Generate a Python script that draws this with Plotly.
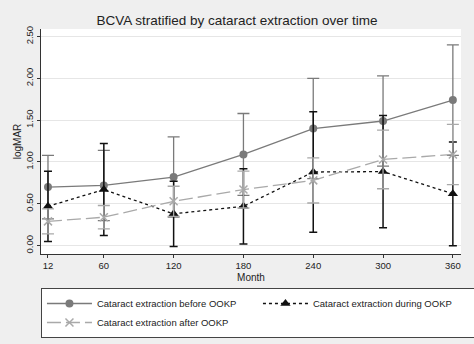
import plotly.graph_objects as go

months = [12, 60, 120, 180, 240, 300, 360]
x_ticks = [12, 60, 120, 180, 240, 300, 360]
y_ticks = [0.0, 0.5, 1.0, 1.5, 2.0, 2.5]
y_tick_labels = ["0.00", "0.50", "1.00", "1.50", "2.00", "2.50"]

before_mean = [0.70, 0.72, 0.82, 1.09, 1.40, 1.49, 1.74]
before_sd = [0.38, 0.42, 0.48, 0.49, 0.60, 0.54, 0.66]

during_mean = [0.47, 0.67, 0.38, 0.47, 0.88, 0.885, 0.62]
during_sd = [0.42, 0.55, 0.39, 0.45, 0.72, 0.67, 0.62]

after_mean = [0.29, 0.34, 0.53, 0.67, 0.78, 1.03, 1.09]
after_sd = [0.15, 0.14, 0.18, 0.22, 0.27, 0.35, 0.36]

names = ["Cataract extraction before OOKP",
         "Cataract extraction during OOKP",
         "Cataract extraction after OOKP"]

FONT = "Liberation Sans, Arial, sans-serif"

fig = go.Figure()

fig.add_trace(go.Scatter(
    x=months, y=before_mean, name=names[0], mode="lines+markers",
    line=dict(color="#7a7a7a", width=1.3),
    marker=dict(symbol="circle", size=8, color="#7a7a7a"),
    error_y=dict(type="data", array=before_sd, color="#7a7a7a", thickness=1.3, width=6),
))
fig.add_trace(go.Scatter(
    x=months, y=during_mean, name=names[1], mode="lines+markers",
    line=dict(color="#111111", width=1.3, dash="dot"),
    marker=dict(symbol="triangle-up", size=9, color="#111111"),
    error_y=dict(type="data", array=during_sd, color="#111111", thickness=1.5, width=4),
))
fig.add_trace(go.Scatter(
    x=months, y=after_mean, name=names[2], mode="lines+markers",
    line=dict(color="#a9a9a9", width=1.3, dash="14px,5px"),
    marker=dict(symbol="x-thin", size=8, color="#a9a9a9", line=dict(color="#a9a9a9", width=1.5)),
    error_y=dict(type="data", array=after_sd, color="#a9a9a9", thickness=1.3, width=6),
))

fig.update_layout(
    width=474, height=344,
    margin=dict(l=41, r=13, t=29, b=90, autoexpand=False),
    paper_bgcolor="#efefef",
    plot_bgcolor="white",
    font=dict(family=FONT, size=9.5, color="#222222"),
    title=dict(text="BCVA stratified by cataract extraction over time",
               x=0.5, xref="container", xanchor="center",
               y=1 - 20 / 344, yref="container", yanchor="middle",
               font=dict(size=13.5, color="#222222")),
    showlegend=True,
    legend=dict(orientation="h", x=-0.0001, xanchor="left", y=-0.151, yanchor="top",
                bgcolor="white", bordercolor="#444444", borderwidth=1,
                entrywidth=156, entrywidthmode="pixels", font=dict(size=9.5),
                tracegroupgap=0, itemwidth=45),
    xaxis=dict(range=[6, 367], tickvals=x_ticks, ticktext=[str(t) for t in x_ticks],
               showgrid=False, zeroline=False, showline=True, linecolor="#333333",
               linewidth=1, ticks="outside", ticklen=3, tickcolor="#333333",
               title=dict(text="Month", standoff=3, font=dict(size=10))),
    yaxis=dict(range=[-0.1, 2.59], tickvals=y_ticks, ticktext=y_tick_labels,
               tickangle=-90, showgrid=True, gridcolor="#e6e6e6", gridwidth=1,
               zeroline=False, showline=True, linecolor="#333333", linewidth=1,
               ticks="outside", ticklen=3, tickcolor="#333333",
               title=dict(text="logMAR", standoff=0, font=dict(size=10))),
)

fig.write_html("out.html")
